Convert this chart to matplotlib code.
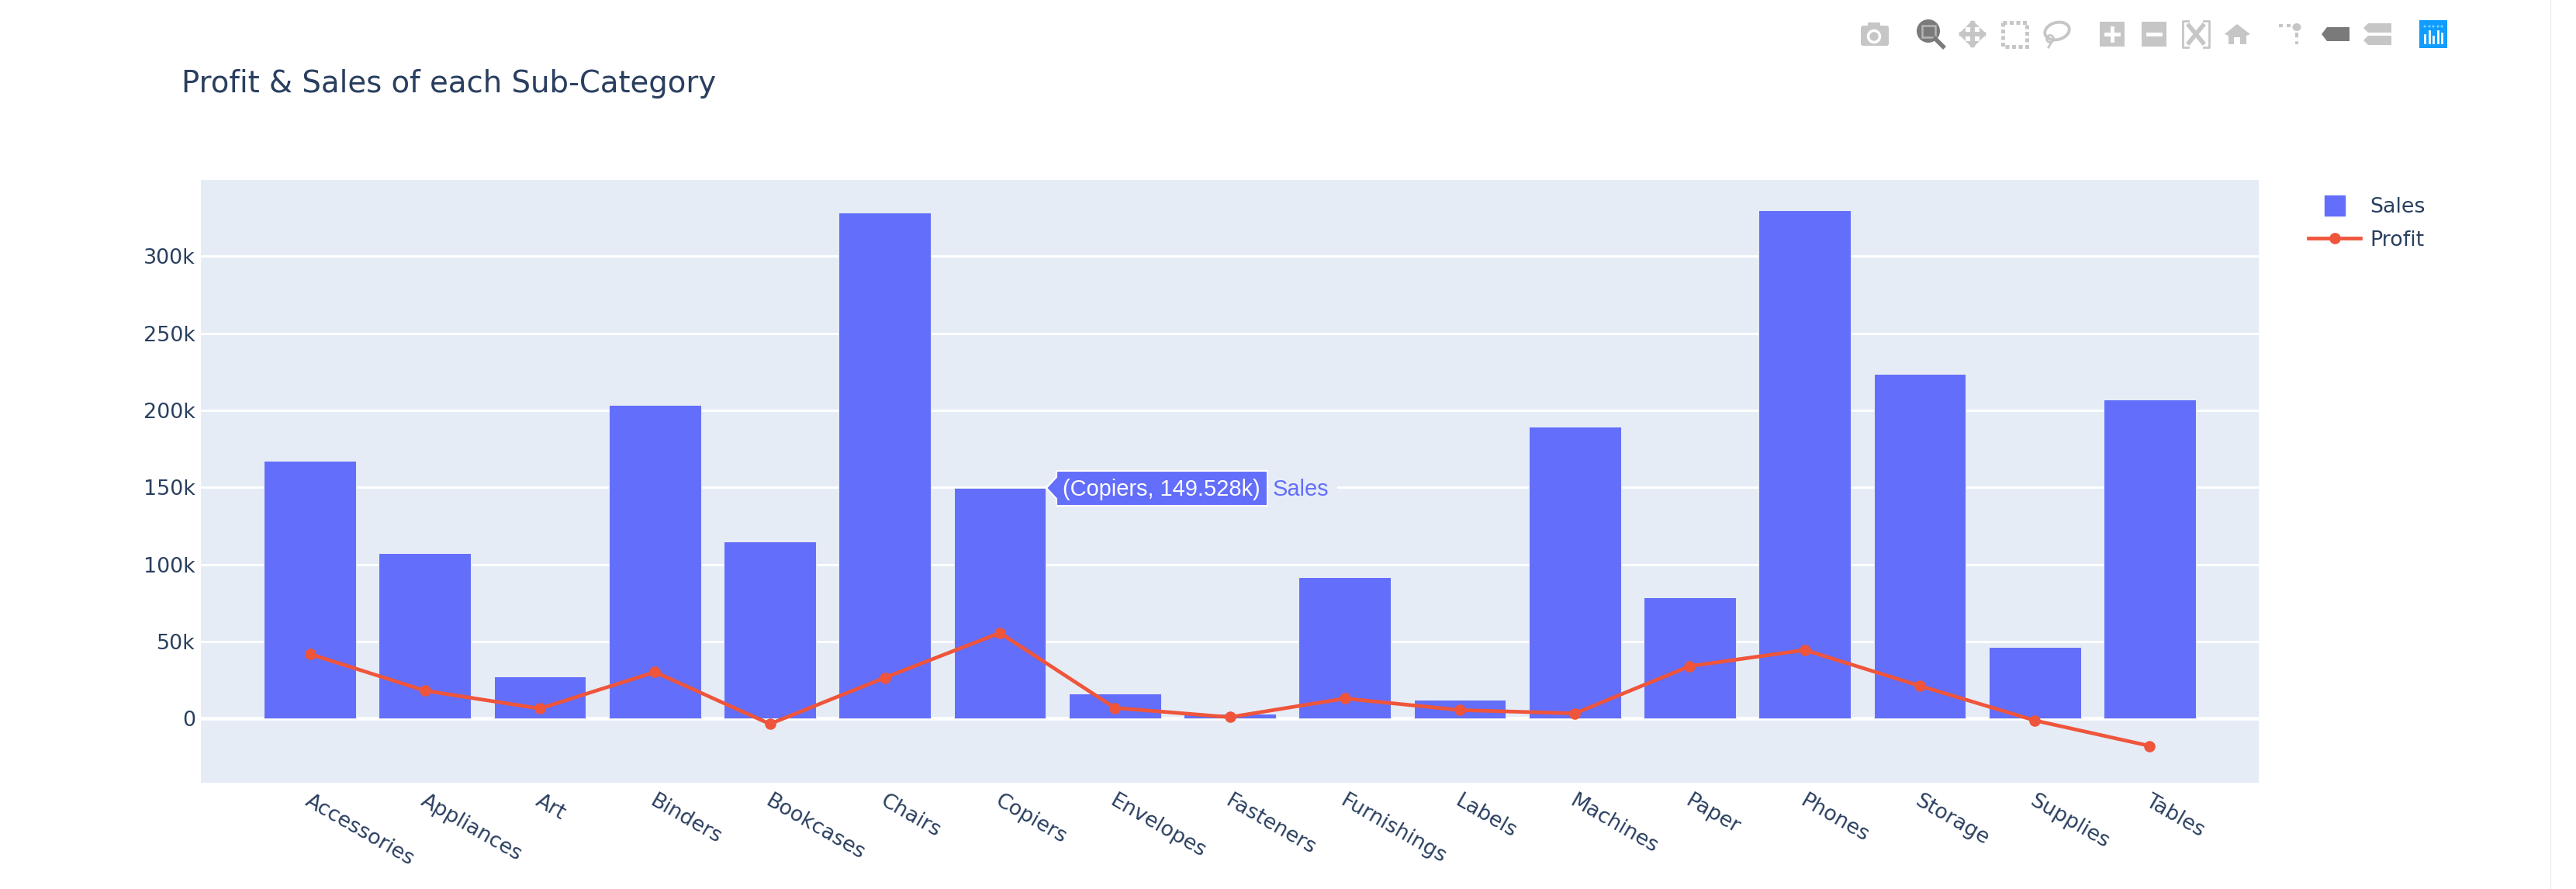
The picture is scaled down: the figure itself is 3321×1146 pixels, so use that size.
import matplotlib
matplotlib.use("Agg")
import matplotlib.pyplot as plt
from matplotlib.lines import Line2D
from matplotlib.patches import Circle, Ellipse, FancyBboxPatch, Polygon, Rectangle
from matplotlib.ticker import FuncFormatter
from matplotlib.transforms import ScaledTranslation

categories = ["Accessories", "Appliances", "Art", "Binders", "Bookcases", "Chairs",
              "Copiers", "Envelopes", "Fasteners", "Furnishings", "Labels", "Machines",
              "Paper", "Phones", "Storage", "Supplies", "Tables"]
sales = [167380, 107532, 27119, 203413, 114880, 328449, 149528, 16476, 3024,
         91705, 12486, 189239, 78479, 330007, 223844, 46674, 206966]
profit = [41937, 18138, 6528, 30222, -3473, 26590, 55618, 6964, 950,
          13059, 5546, 3385, 34054, 44516, 21279, -1189, -17725]
y_ticks = [0, 50000, 100000, 150000, 200000, 250000, 300000]

BLUE = "#636EFA"
RED = "#EF553B"
TEXT = "#2A3F5F"
BG = "#E5ECF6"
W, H = 3321, 1146

plt.rcParams["font.family"] = ["DejaVu Sans"]
fig = plt.figure(figsize=(W / 100, H / 100), dpi=100, facecolor="white")

# plot area, measured in pixels
ax = fig.add_axes([259 / W, 1 - 1009 / H, (2912 - 259) / W, (1009 - 232) / H], facecolor=BG)
pos = list(range(len(categories)))
ax.bar(pos, sales, 0.8, color=BLUE, edgecolor=BG, linewidth=0.75, zorder=3)
ax.plot(pos, profit, color=RED, lw=3.4, marker="o", ms=9.5, zorder=4, solid_joinstyle="miter")
ax.set_xlim(-0.948, 16.948)
ax.set_ylim(-41600, 349500)
ax.set_yticks(y_ticks)
ax.yaxis.set_major_formatter(FuncFormatter(lambda v, p: "0" if v == 0 else "%dk" % (v / 1000)))
ax.set_xticks(pos)
ax.set_xticklabels(categories, rotation=-30, ha="left", va="center", rotation_mode="anchor")
ax.tick_params(axis="x", length=0, labelsize=19.4, labelcolor=TEXT, pad=16)
ax.tick_params(axis="y", length=0, labelsize=19.4, labelcolor=TEXT, pad=5)
for lab in ax.get_xticklabels():
    lab.set_transform(lab.get_transform() + ScaledTranslation(-0.04, 0, fig.dpi_scale_trans))
ax.grid(axis="y", color="white", lw=2.1, zorder=1)
ax.axhline(0, color="white", lw=3.4, zorder=2)
ax.set_axisbelow(True)
for s in ax.spines.values():
    s.set_visible(False)

fig.text(234 / W, 1 - 108 / H, "Profit & Sales of each Sub-Category", fontsize=27.85,
         color=TEXT, va="center", ha="left")

handles = [Line2D([], [], color=BLUE, marker="s", ls="none", ms=18.7),
           Line2D([], [], color=RED, marker="o", ms=9.5, lw=3.4)]
fig.legend(handles, ["Sales", "Profit"], loc="upper left", bbox_to_anchor=(2976 / W, 1 - 254 / H),
           frameon=False, fontsize=19.4, labelcolor=TEXT, handlelength=2.5, handletextpad=0.45,
           labelspacing=0.62, borderpad=0, borderaxespad=0)

# overlay in pixels for the hover label, the modebar and the page edge
ov = fig.add_axes([0, 0, 1, 1], facecolor="none")
ov.set_xlim(0, W)
ov.set_ylim(H, 0)
ov.axis("off")

ov.add_patch(Rectangle((1636, 614), 88, 30, fc=BG, ec="none"))
ov.add_patch(Polygon([(1349, 629), (1362, 615), (1362, 607), (1634, 607), (1634, 652),
                      (1362, 652), (1362, 643)], fc=BLUE, ec="white", lw=1.5))
ov.text(1370, 631, "(Copiers, 149.528k)", color="white", fontsize=20.9,
        family="Liberation Sans", va="center", ha="left")
ov.text(1641, 631, "Sales", color=BLUE, fontsize=20.9,
        family="Liberation Sans", va="center", ha="left")

GREY = "#C6C6C6"
DARK = "#7A7A7A"
# camera
ov.add_patch(FancyBboxPatch((2402, 36), 30, 20, boxstyle="round,pad=3", fc=GREY, ec="none"))
ov.add_patch(Rectangle((2408, 29), 16, 6, fc=GREY, ec="none"))
ov.add_patch(Ellipse((2416, 47), 15, 15, fc="none", ec="white", lw=2.5))
# zoom
ov.add_patch(Ellipse((2486, 40), 30, 30, fc=DARK, ec="none"))
ov.add_patch(Rectangle((2478, 33), 17, 15, fc=DARK, ec="#B5B5B5", lw=1.8))
ov.plot([2495, 2505], [50, 60], color=DARK, lw=4)
# pan
ov.plot([2543, 2543], [30, 58], color=GREY, lw=4.2)
ov.plot([2529, 2557], [44, 44], color=GREY, lw=4.2)
for pts in ([(2543, 26), (2534, 35), (2552, 35)], [(2543, 62), (2534, 53), (2552, 53)],
            [(2525, 44), (2534, 35), (2534, 53)], [(2561, 44), (2552, 35), (2552, 53)]):
    ov.add_patch(Polygon(pts, fc=GREY, ec="none"))
# box select
ov.add_patch(Rectangle((2582, 29), 31, 31, fc="none", ec=GREY, lw=3.6, ls=(0, (1, 0.7))))
# lasso
ov.add_patch(Ellipse((2652, 40), 32, 22, angle=-15, fc="none", ec=GREY, lw=2.8))
ov.add_patch(Ellipse((2643, 50), 9, 9, fc="none", ec=GREY, lw=2))
ov.plot([2645, 2641], [54, 61], color=GREY, lw=2)
# zoom in, zoom out
ov.add_patch(Rectangle((2707, 28), 32, 32, fc=GREY, ec="none"))
ov.plot([2723, 2723], [36, 52], color="white", lw=3.5)
ov.plot([2715, 2731], [44, 44], color="white", lw=3.5)
ov.add_patch(Rectangle((2761, 28), 32, 32, fc=GREY, ec="none"))
ov.plot([2769, 2785], [44, 44], color="white", lw=3.5)
# autoscale
ov.plot([2821, 2814, 2814, 2821], [27, 27, 61, 61], color=GREY, lw=2)
ov.plot([2841, 2848, 2848, 2841], [27, 27, 61, 61], color=GREY, lw=2)
ov.plot([2822, 2840], [33, 55], color=GREY, lw=4)
ov.plot([2840, 2822], [33, 55], color=GREY, lw=4)
# home
ov.add_patch(Polygon([(2868, 44), (2884, 31), (2901, 44), (2896, 46), (2896, 57), (2888, 57),
                      (2888, 48), (2880, 48), (2880, 57), (2873, 57), (2873, 46)], fc=GREY, ec="none"))
# spikelines
ov.add_patch(Ellipse((2961, 35), 11, 10, fc=GREY, ec="none"))
ov.plot([2938, 2953], [33, 33], color=GREY, lw=3, ls=(0, (1.2, 1.2)))
ov.plot([2961, 2961], [42, 57], color=GREY, lw=3, ls=(0, (1.5, 1.2)))
# closest and compare hover
ov.add_patch(Polygon([(2993, 44), (3000, 35), (3029, 35), (3029, 53), (3000, 53)], fc=DARK, ec="none"))
ov.add_patch(Polygon([(3047, 36), (3053, 30), (3083, 30), (3083, 42), (3053, 42)], fc=GREY, ec="none"))
ov.add_patch(Polygon([(3047, 52), (3053, 46), (3083, 46), (3083, 58), (3053, 58)], fc=GREY, ec="none"))
# plotly logo
ov.add_patch(Rectangle((3119, 26), 36, 36, fc="#119DFF", ec="none"))
for x, top in zip([3126, 3132, 3137, 3143, 3148], [45, 40, 47, 40, 43]):
    ov.plot([x, x], [top, 55], color="white", lw=2)
    ov.add_patch(Circle((x, 34), 1.5, fc="#7FD4FF", ec="none"))
# page edge
ov.plot([3288, 3288], [0, H], color="#EDEDED", lw=1)

fig.savefig("out.png", dpi=100)
